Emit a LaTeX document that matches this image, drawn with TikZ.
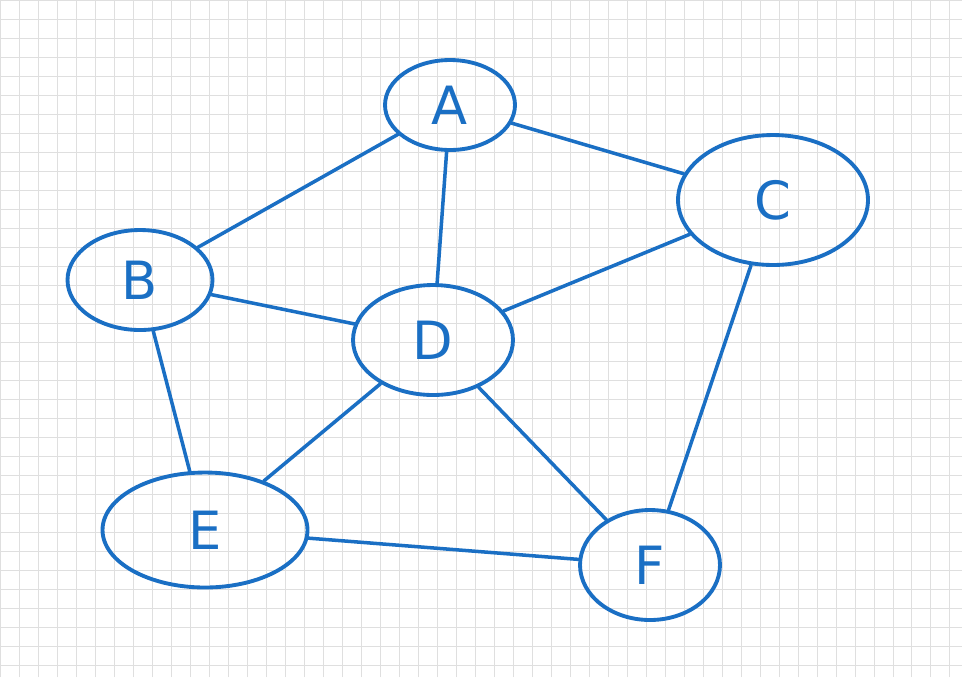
\documentclass[tikz,border=0pt]{standalone}
\usepackage{fontspec}
\setmainfont{DejaVu Sans}
\usetikzlibrary{shapes.geometric}
\definecolor{ink}{HTML}{1A6FC4}
\begin{document}
\begin{tikzpicture}[x=0.02cm,y=-0.02cm,
  vert/.style={ellipse,draw=ink,line width=2.2pt,text=ink,font=\fontsize{30}{30}\selectfont},
  edge/.style={draw=ink,line width=2pt,line cap=round}]
\useasboundingbox (0,0) rectangle (962,677);
\fill[white] (0,0) rectangle (962,677);
\draw[gray!25,line width=0.4pt,step=0.38cm] (0,0) grid (962,677);
\node[vert,minimum width=2.6cm,minimum height=1.8cm] (A) at (450,105) {A};
\node[vert,minimum width=3.8cm,minimum height=2.6cm] (C) at (773,200) {C};
\node[vert,minimum width=2.9cm,minimum height=2.0cm] (B) at (140,280) {B};
\node[vert,minimum width=3.2cm,minimum height=2.2cm] (D) at (433,340) {D};
\node[vert,minimum width=4.1cm,minimum height=2.3cm] (E) at (205,530) {E};
\node[vert,minimum width=2.8cm,minimum height=2.2cm] (F) at (650,565) {F};
\draw[edge] (A) -- (B);
\draw[edge] (A) -- (C);
\draw[edge] (A) -- (D);
\draw[edge] (B) -- (D);
\draw[edge] (B) -- (E);
\draw[edge] (D) -- (C);
\draw[edge] (D) -- (E);
\draw[edge] (D) -- (F);
\draw[edge] (C) -- (F);
\draw[edge] (E) -- (F);
\end{tikzpicture}
\end{document}
